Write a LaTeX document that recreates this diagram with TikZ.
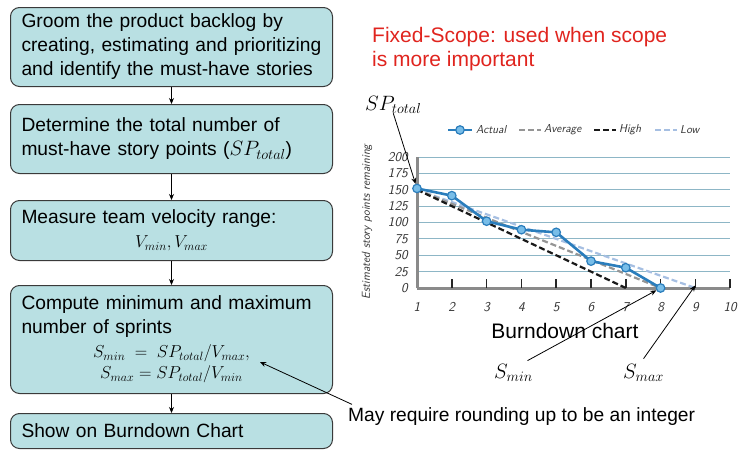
\documentclass[tikz,border=0pt]{standalone}
\usepackage{fontspec}
\setmainfont{Liberation Sans}
\usetikzlibrary{arrows.meta}
\definecolor{boxfill}{HTML}{B9E0E3}
\definecolor{boxline}{HTML}{3A3A3A}
\definecolor{scopered}{HTML}{E0241E}
\definecolor{gridc}{HTML}{8DB6C6}
\definecolor{axisc}{HTML}{8A8A8A}
\definecolor{actc}{HTML}{2A7DBC}
\definecolor{markfill}{HTML}{78BDE8}
\definecolor{avgc}{HTML}{959595}
\definecolor{lowc}{HTML}{A6BFE2}
\begin{document}
\begin{tikzpicture}[x=1pt,y=-1pt,
  flowbox/.style={draw=boxline, line width=1pt, fill=boxfill, rounded corners=9pt,
    text width=300pt, inner xsep=11pt, inner ysep=0pt, align=left, anchor=north west,
    font=\fontsize{19.2}{24}\selectfont},
  arr/.style={-{Stealth[length=6pt,width=5pt]}, line width=0.8pt, black},
  gridline/.style={gridc, line width=0.8pt},
  axisline/.style={axisc, line width=3pt},
  tickmark/.style={black!85, line width=1.6pt},
  ticklab/.style={font=\fontsize{13.5}{15}\sffamily\itshape, text=black!80, inner sep=0pt},
  lowline/.style={lowc, line width=2.2pt, dash pattern=on 6pt off 3pt},
  avgline/.style={avgc, line width=2.2pt, dash pattern=on 6pt off 3pt},
  highline/.style={black!90, line width=2.2pt, dash pattern=on 6pt off 3pt},
  actline/.style={actc, line width=2.6pt, line join=round},
  marker/.style={circle, draw=actc, fill=markfill, line width=1.2pt, minimum size=8.5pt, inner sep=0pt},
  legtext/.style={font=\fontsize{11.5}{13}\sffamily\itshape, text=black!80, anchor=west, inner sep=0pt},
  bigmath/.style={font=\fontsize{22}{24}\selectfont, inner sep=0pt}
]
\useasboundingbox (0,0) rectangle (742,450);

% ---------- flowchart ----------
\node[flowbox, minimum height=79pt] (b1) at (10,7)
  {\mbox{Groom the product backlog by}\\ \mbox{creating, estimating and prioritizing}\\ \mbox{and identify the must-have stories}};
\node[flowbox, minimum height=69pt] (b2) at (10,104)
  {\mbox{Determine the total number of}\\ \mbox{must-have story points ($SP_{total}$)}};
\node[flowbox, minimum height=60pt] (b3) at (10,200)
  {\mbox{Measure team velocity range:}\\ \makebox[\linewidth]{\fontsize{17}{20}\selectfont$V_{min}, V_{max}$}};
\node[flowbox, minimum height=108pt] (b4) at (10,285)
  {\mbox{Compute minimum and maximum}\\ \mbox{number of sprints}\\
   \makebox[\linewidth]{\fontsize{17}{20}\selectfont$S_{min} \;=\; SP_{total}/V_{max},$}\\[-3pt]
   \makebox[\linewidth]{\fontsize{17}{20}\selectfont$S_{max} = SP_{total}/V_{min}$}};
\node[flowbox, minimum height=35pt] (b5) at (10,413) {\mbox{Show on Burndown Chart}};

\draw[arr] (b1) -- (b2);
\draw[arr] (b2) -- (b3);
\draw[arr] (b3) -- (b4);
\draw[arr] (b4) -- (b5);

% ---------- red title ----------
\node[anchor=north west, inner sep=0pt, align=left, text=scopered,
      font=\fontsize{21}{24}\selectfont] (fixed) at (372,27)
  {Fixed-Scope: used when scope\\ is more important};

% ---------- chart ----------
\node[rotate=90, font=\fontsize{11.5}{13}\sffamily\itshape, text=black!80, inner sep=0pt] (ytitle) at (367,222)
  {Estimated story points remaining};

% legend
\draw[actline] (448,130) -- (472,130);
\node[marker] (legm) at (460,130) {};
\node[legtext] (legact) at (476,130) {Actual};
\draw[avgline] (519,130) -- (541,130);
\node[legtext] (legavg) at (544,130) {Average};
\draw[highline] (594,130) -- (616,130);
\node[legtext] (leghigh) at (619,130) {High};
\draw[lowline] (655,130) -- (677,130);
\node[legtext] (leglow) at (680,130) {Low};

\begin{scope}[shift={(382.2pt,-288pt)}, x=34.8pt, y=0.655pt]
  \foreach \v in {25,50,...,200} \draw[gridline] (1,\v) -- (10,\v);
  \draw[axisline] (1,0) -- (1,200);
  \draw[axisline] (1,0) -- (10,0);
  \foreach \i in {2,...,10} \draw[tickmark] (\i,0) -- (\i,14);
  \foreach \v in {0,25,...,200} \node[ticklab, anchor=east, xshift=-9pt] (yl\v) at (1,\v) {\v};
  \foreach \i in {1,...,10} \node[ticklab, yshift=-19pt] (xl\i) at (\i,0) {\i};
  \draw[lowline] (1,150) -- (9,0);
  \draw[avgline] (1,150) -- (8,0);
  \draw[highline] (1,150) -- (7,0);
  \foreach \yy [count=\k] in {152,141,102,89,85,41,31,0} \coordinate (a\k) at (\k,\yy);
  \draw[actline] (a1) -- (a2) -- (a3) -- (a4) -- (a5) -- (a6) -- (a7) -- (a8);
  \foreach \k in {1,...,8} \node[marker] (m\k) at (a\k) {};
  \coordinate (s9) at (9,4);
\end{scope}

% ---------- labels ----------
\node[bigmath, anchor=base west] (sptot) at (365,110) {$SP_{total}$};
\node[font=\fontsize{21}{24}\selectfont, anchor=base, inner sep=0pt] (bdc) at (565,338) {Burndown chart};
\node[bigmath, anchor=base west] (smin) at (494,378) {$S_{min}$};
\node[bigmath, anchor=base west] (smax) at (623,378) {$S_{max}$};
\node[font=\fontsize{19.2}{24}\selectfont, anchor=base west, inner sep=0pt] (note) at (348,421.5)
  {May require rounding up to be an integer};
\coordinate (fmla) at (260,362);

\draw[arr] (sptot.south) -- (m1);
\draw[arr] ([xshift=14pt,yshift=3pt]smin.north) -- (m8);
\draw[arr] ([yshift=5pt]smax.north) -- (s9);
\draw[arr] ([xshift=4pt,yshift=3pt]note.north west) -- (fmla);
\end{tikzpicture}
\end{document}
